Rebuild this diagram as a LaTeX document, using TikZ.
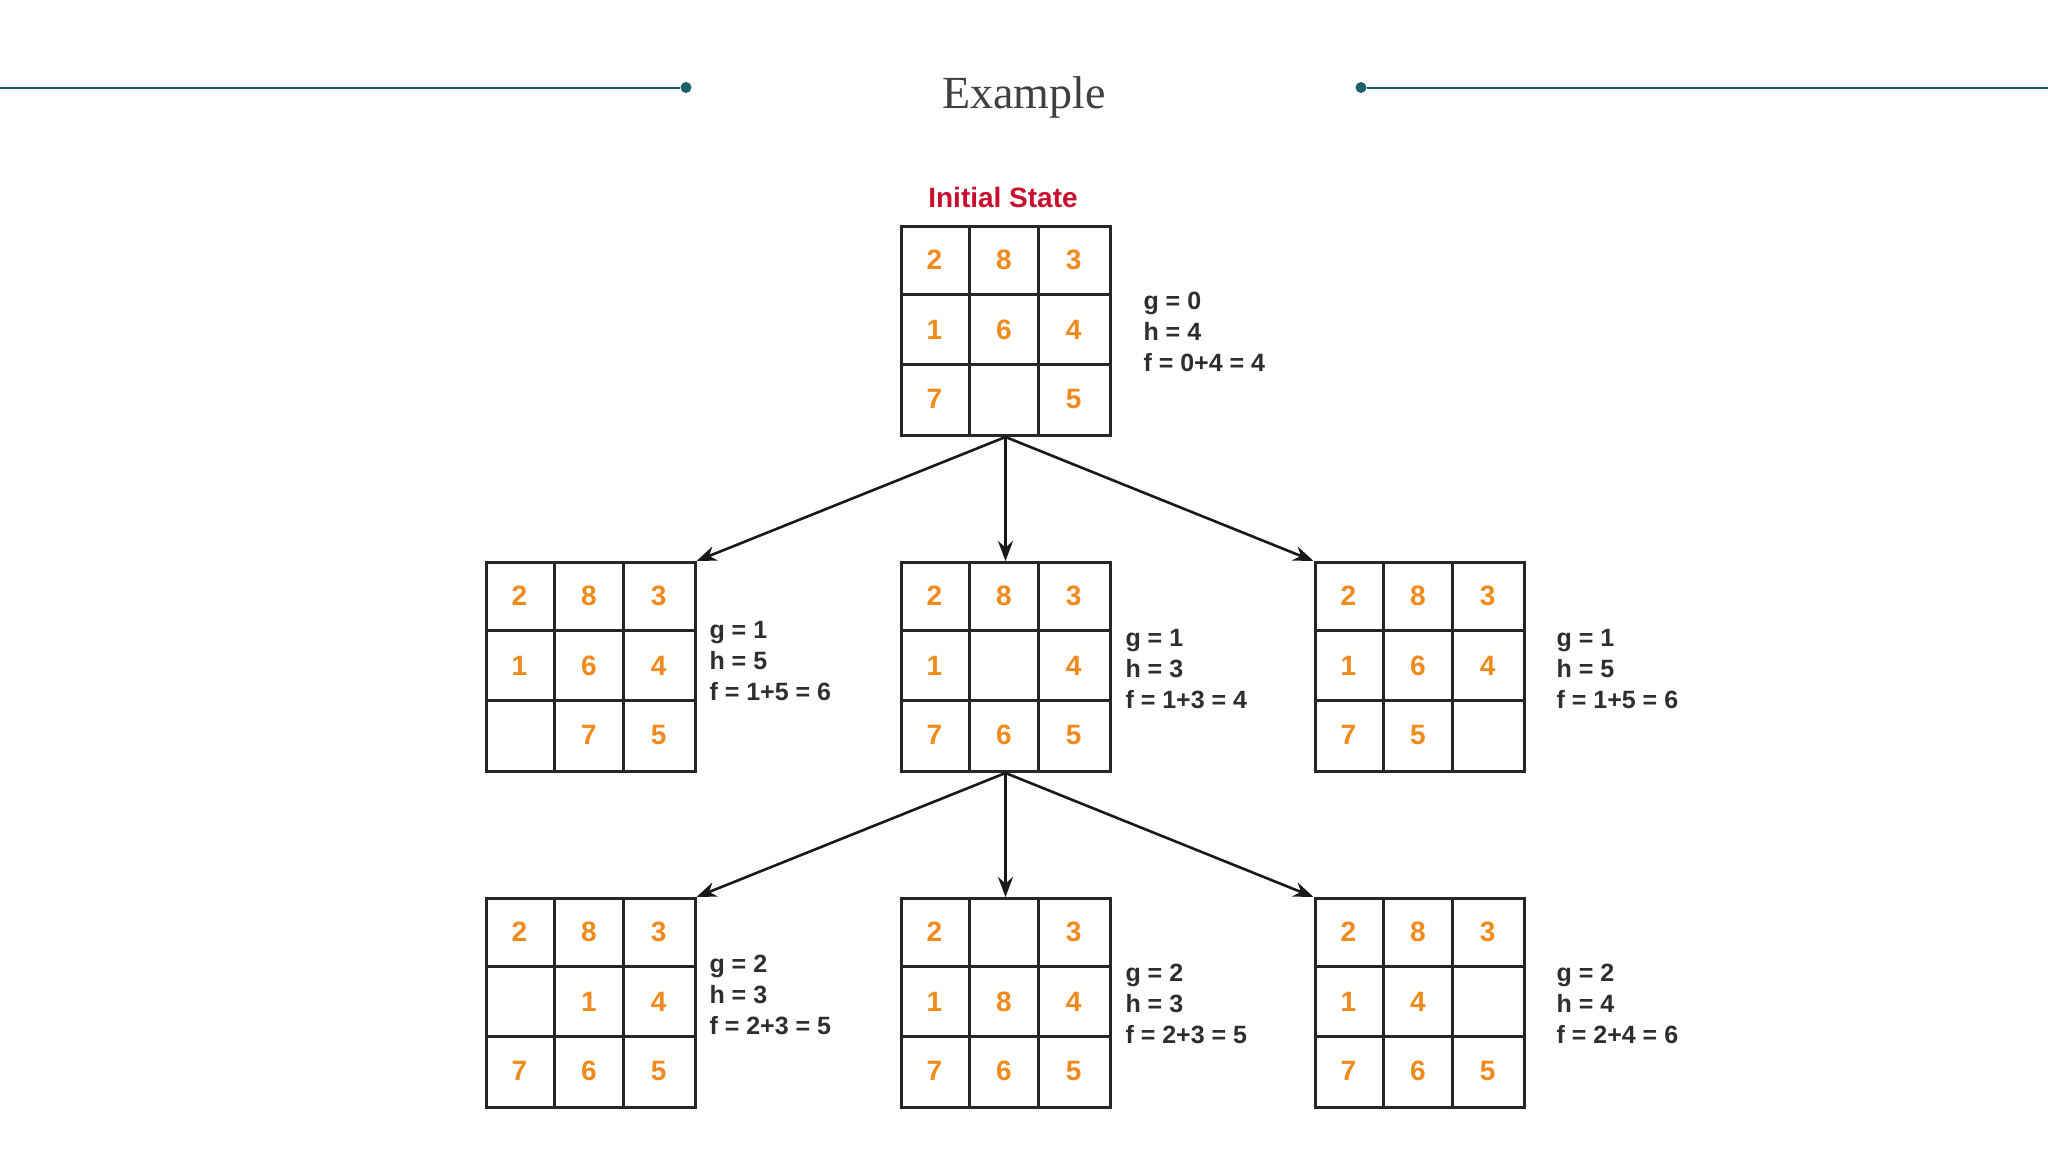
\documentclass[tikz,border=0pt]{standalone}
\usepackage{fontspec}
\setmainfont{Liberation Sans}
\usetikzlibrary{arrows.meta,calc}
\definecolor{teal}{HTML}{1F5F66}
\definecolor{org}{HTML}{F08A1C}
\definecolor{txt}{HTML}{2E2E2E}
\definecolor{red}{HTML}{C8102E}
\tikzset{
  grid/.style={draw=black!85,line width=3pt,minimum size=209pt,inner sep=0pt},
  num/.style={text=org,font=\fontsize{28}{28}\selectfont\bfseries},
  lab/.style={text=txt,font=\fontsize{25}{31}\selectfont\bfseries,align=left,anchor=west},
  arr/.style={-{Stealth[length=20pt,width=15pt]},line width=2.6pt,black!90}
}
\newcommand{\puz}[4]{%
  \node[grid] (#1) at (#2,#3) {};
  \draw[black!85,line width=3pt] ($(#1.north west)+(69.7,0)$) -- ($(#1.south west)+(69.7,0)$)
    ($(#1.north west)+(139.3,0)$) -- ($(#1.south west)+(139.3,0)$)
    ($(#1.north west)+(0,69.7)$) -- ($(#1.north east)+(0,69.7)$)
    ($(#1.north west)+(0,139.3)$) -- ($(#1.north east)+(0,139.3)$);
  \foreach \v [count=\i from 0] in {#4} {
    \pgfmathtruncatemacro\c{mod(\i,3)}\pgfmathtruncatemacro\r{div(\i,3)}
    \node[num] (#1-\i) at ($(#1.north west)+(34.8+69.7*\c,34.8+69.7*\r)$) {\v};
  }}
\begin{document}
\begin{tikzpicture}[x=1pt,y=-1pt]
\useasboundingbox[fill=white] (0,0) rectangle (2048,1152);
\coordinate (l0) at (0,87.5); \node[circle,fill=teal,inner sep=0pt,minimum size=11pt] (ld) at (686,87.5) {};
\draw[teal,line width=2pt] (l0) -- (ld);
\coordinate (r0) at (2048,87.5); \node[circle,fill=teal,inner sep=0pt,minimum size=11pt] (rd) at (1361,87.5) {};
\draw[teal,line width=2pt] (rd) -- (r0);
\node[font=\fontspec{Liberation Serif}\fontsize{46}{46}\selectfont,text=black!75] (title) at (1024,97) {Example};
\node[text=red,font=\fontsize{28}{28}\selectfont\bfseries] (init) at (1003,197) {Initial State};
\puz{s0}{1005.5}{331}{2,8,3,1,6,4,7,{},5}
\puz{a}{590.5}{667}{2,8,3,1,6,4,{},7,5}
\puz{b}{1005.5}{667}{2,8,3,1,{},4,7,6,5}
\puz{c}{1419.5}{667}{2,8,3,1,6,4,7,5,{}}
\puz{d}{590.5}{1003}{2,8,3,{},1,4,7,6,5}
\puz{e}{1005.5}{1003}{2,{},3,1,8,4,7,6,5}
\puz{f}{1419.5}{1003}{2,8,3,1,4,{},7,6,5}
\node[lab] (t0) at (1140,332) {g = 0\\h = 4\\f = 0+4 = 4};
\node[lab] (ta) at (706,661) {g = 1\\h = 5\\f = 1+5 = 6};
\node[lab] (tb) at (1122,669) {g = 1\\h = 3\\f = 1+3 = 4};
\node[lab] (tc) at (1553,669) {g = 1\\h = 5\\f = 1+5 = 6};
\node[lab] (td) at (706,995) {g = 2\\h = 3\\f = 2+3 = 5};
\node[lab] (te) at (1122,1004) {g = 2\\h = 3\\f = 2+3 = 5};
\node[lab] (tf) at (1553,1004) {g = 2\\h = 4\\f = 2+4 = 6};
\draw[arr] (s0.south) -- (a.north east);
\draw[arr] (s0.south) -- (b.north);
\draw[arr] (s0.south) -- (c.north west);
\draw[arr] (b.south) -- (d.north east);
\draw[arr] (b.south) -- (e.north);
\draw[arr] (b.south) -- (f.north west);
\end{tikzpicture}
\end{document}
